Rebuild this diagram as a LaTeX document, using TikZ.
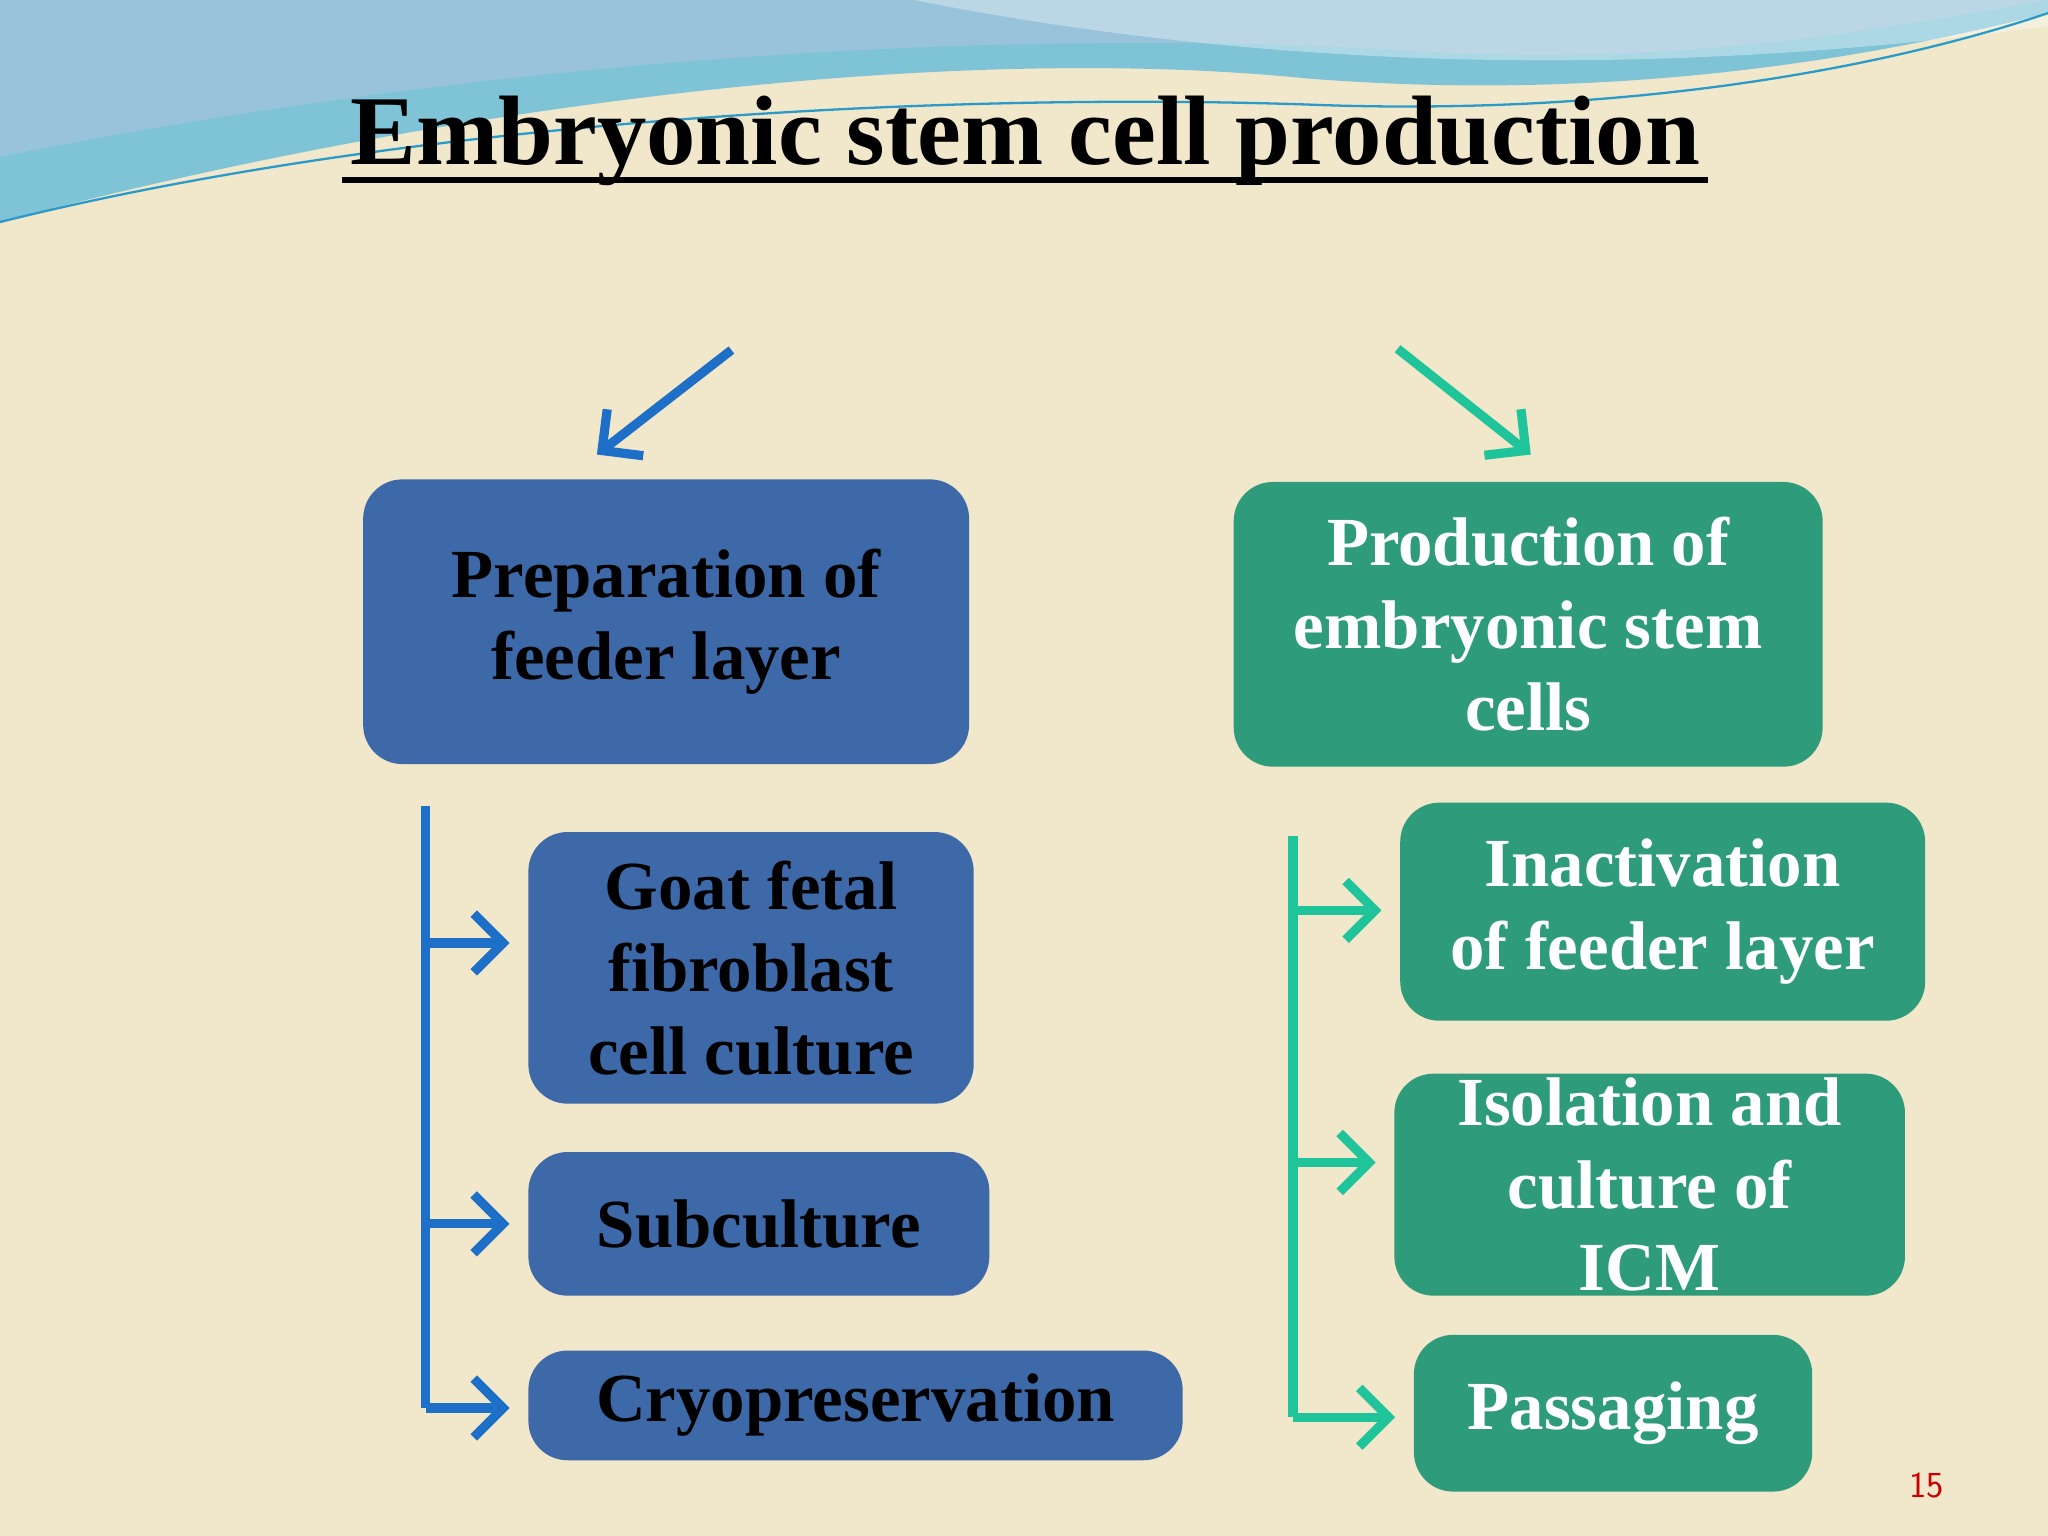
\documentclass[tikz,border=0pt]{standalone}
\usepackage{fontspec}
\setmainfont{Liberation Serif}
\usetikzlibrary{arrows.meta}
\definecolor{bg}{HTML}{F1E7CB}
\definecolor{bbox}{HTML}{3D69A8}
\definecolor{gbox}{HTML}{2E9B7A}
\definecolor{barrow}{HTML}{1E6FC8}
\definecolor{garrow}{HTML}{1FC49A}
\definecolor{wave1}{HTML}{7FC4D6}
\definecolor{wave2}{HTML}{9FC3DC}
\begin{document}
\begin{tikzpicture}[x=0.02cm,y=-0.02cm,
  box/.style={rounded corners=0.6cm,draw=none,align=center,font=\fontsize{30}{36}\selectfont\bfseries,inner sep=0pt},
  bb/.style={box,fill=bbox,text=black},
  gb/.style={box,fill=gbox,text=white},
  ba/.style={draw=barrow,line width=4pt,-{Straight Barb[length=0.45cm,width=0.9cm,line width=4pt]}},
  ga/.style={draw=garrow,line width=4pt,-{Straight Barb[length=0.45cm,width=0.9cm,line width=4pt]}}]
\fill[bg] (0,0) rectangle (1568,1176);
\useasboundingbox (0,0) rectangle (1568,1176);
% top wave
\fill[wave1] (0,0) -- (0,170) .. controls (300,90) and (700,30) .. (1000,60) .. controls (1250,80) and (1450,40) .. (1568,10) -- (1568,0) -- cycle;
\fill[wave2,opacity=0.8] (0,0) -- (0,120) .. controls (400,40) and (800,20) .. (1100,40) .. controls (1300,50) and (1450,20) .. (1568,0) -- cycle;
\fill[white,opacity=0.35] (700,0) .. controls (900,40) and (1200,70) .. (1568,20) -- (1568,0) -- cycle;
\draw[cyan!60!teal,line width=1pt] (0,170) .. controls (300,95) and (700,70) .. (1000,80) .. controls (1250,90) and (1450,50) .. (1568,10);
% title
\node[font=\fontsize{43}{48}\selectfont\bfseries] (title) at (785,108) {Embryonic stem cell production};
\draw[line width=2.5pt] ([yshift=-0.24cm]title.base west) -- ([yshift=-0.24cm]title.base east);
% boxes
\node[bb,minimum width=9.28cm,minimum height=4.36cm] (prep) at (510,476) {Preparation of\\feeder layer};
\node[gb,minimum width=9.02cm,minimum height=4.36cm] (prod) at (1170,478) {Production of\\embryonic stem\\cells};
\node[bb,minimum width=6.82cm,minimum height=4.16cm] (goat) at (575,741) {Goat fetal\\fibroblast\\cell culture};
\node[bb,minimum width=7.06cm,minimum height=2.2cm] (sub) at (581,937) {Subculture};
\node[bb,minimum width=10.02cm,minimum height=1.68cm] (cryo) at (655,1076) {Cryopreservation};
\node[gb,minimum width=8.04cm,minimum height=3.34cm] (inact) at (1273,698) {Inactivation\\of feeder layer};
\node[gb,minimum width=7.82cm,minimum height=3.4cm] (iso) at (1263,907) {Isolation and\\culture of\\ICM};
\node[gb,minimum width=6.1cm,minimum height=2.4cm] (pass) at (1235,1082) {Passaging};
% top arrows
\coordinate (bs) at (560,268); \coordinate (be) at (457,348);
\coordinate (gs) at (1070,267); \coordinate (ge) at (1172,348);
\draw[ba] (bs) -- (be);
\draw[ga] (gs) -- (ge);
% blue bracket
\coordinate (bt) at (326,617); \coordinate (b1) at (326,722); \coordinate (b2) at (326,937); \coordinate (b3) at (326,1078);
\draw[draw=barrow,line width=4pt] (bt) -- (b3);
\draw[ba,shorten >=8pt] (b1) -- (b1 -| goat.west);
\draw[ba,shorten >=8pt] (b2) -- (b2 -| sub.west);
\draw[ba,shorten >=8pt] (b3) -- (b3 -| cryo.west);
% green bracket
\coordinate (gt) at (990,640); \coordinate (g1) at (990,697); \coordinate (g2) at (990,890); \coordinate (g3) at (990,1085);
\draw[draw=garrow,line width=4pt] (gt) -- (g3);
\draw[ga,shorten >=8pt] (g1) -- (g1 -| inact.west);
\draw[ga,shorten >=8pt] (g2) -- (g2 -| iso.west);
\draw[ga,shorten >=8pt] (g3) -- (g3 -| pass.west);
\node[text=red!80!black,font=\fontsize{16}{18}\selectfont\sffamily] (pg) at (1475,1137) {15};
\end{tikzpicture}
\end{document}
